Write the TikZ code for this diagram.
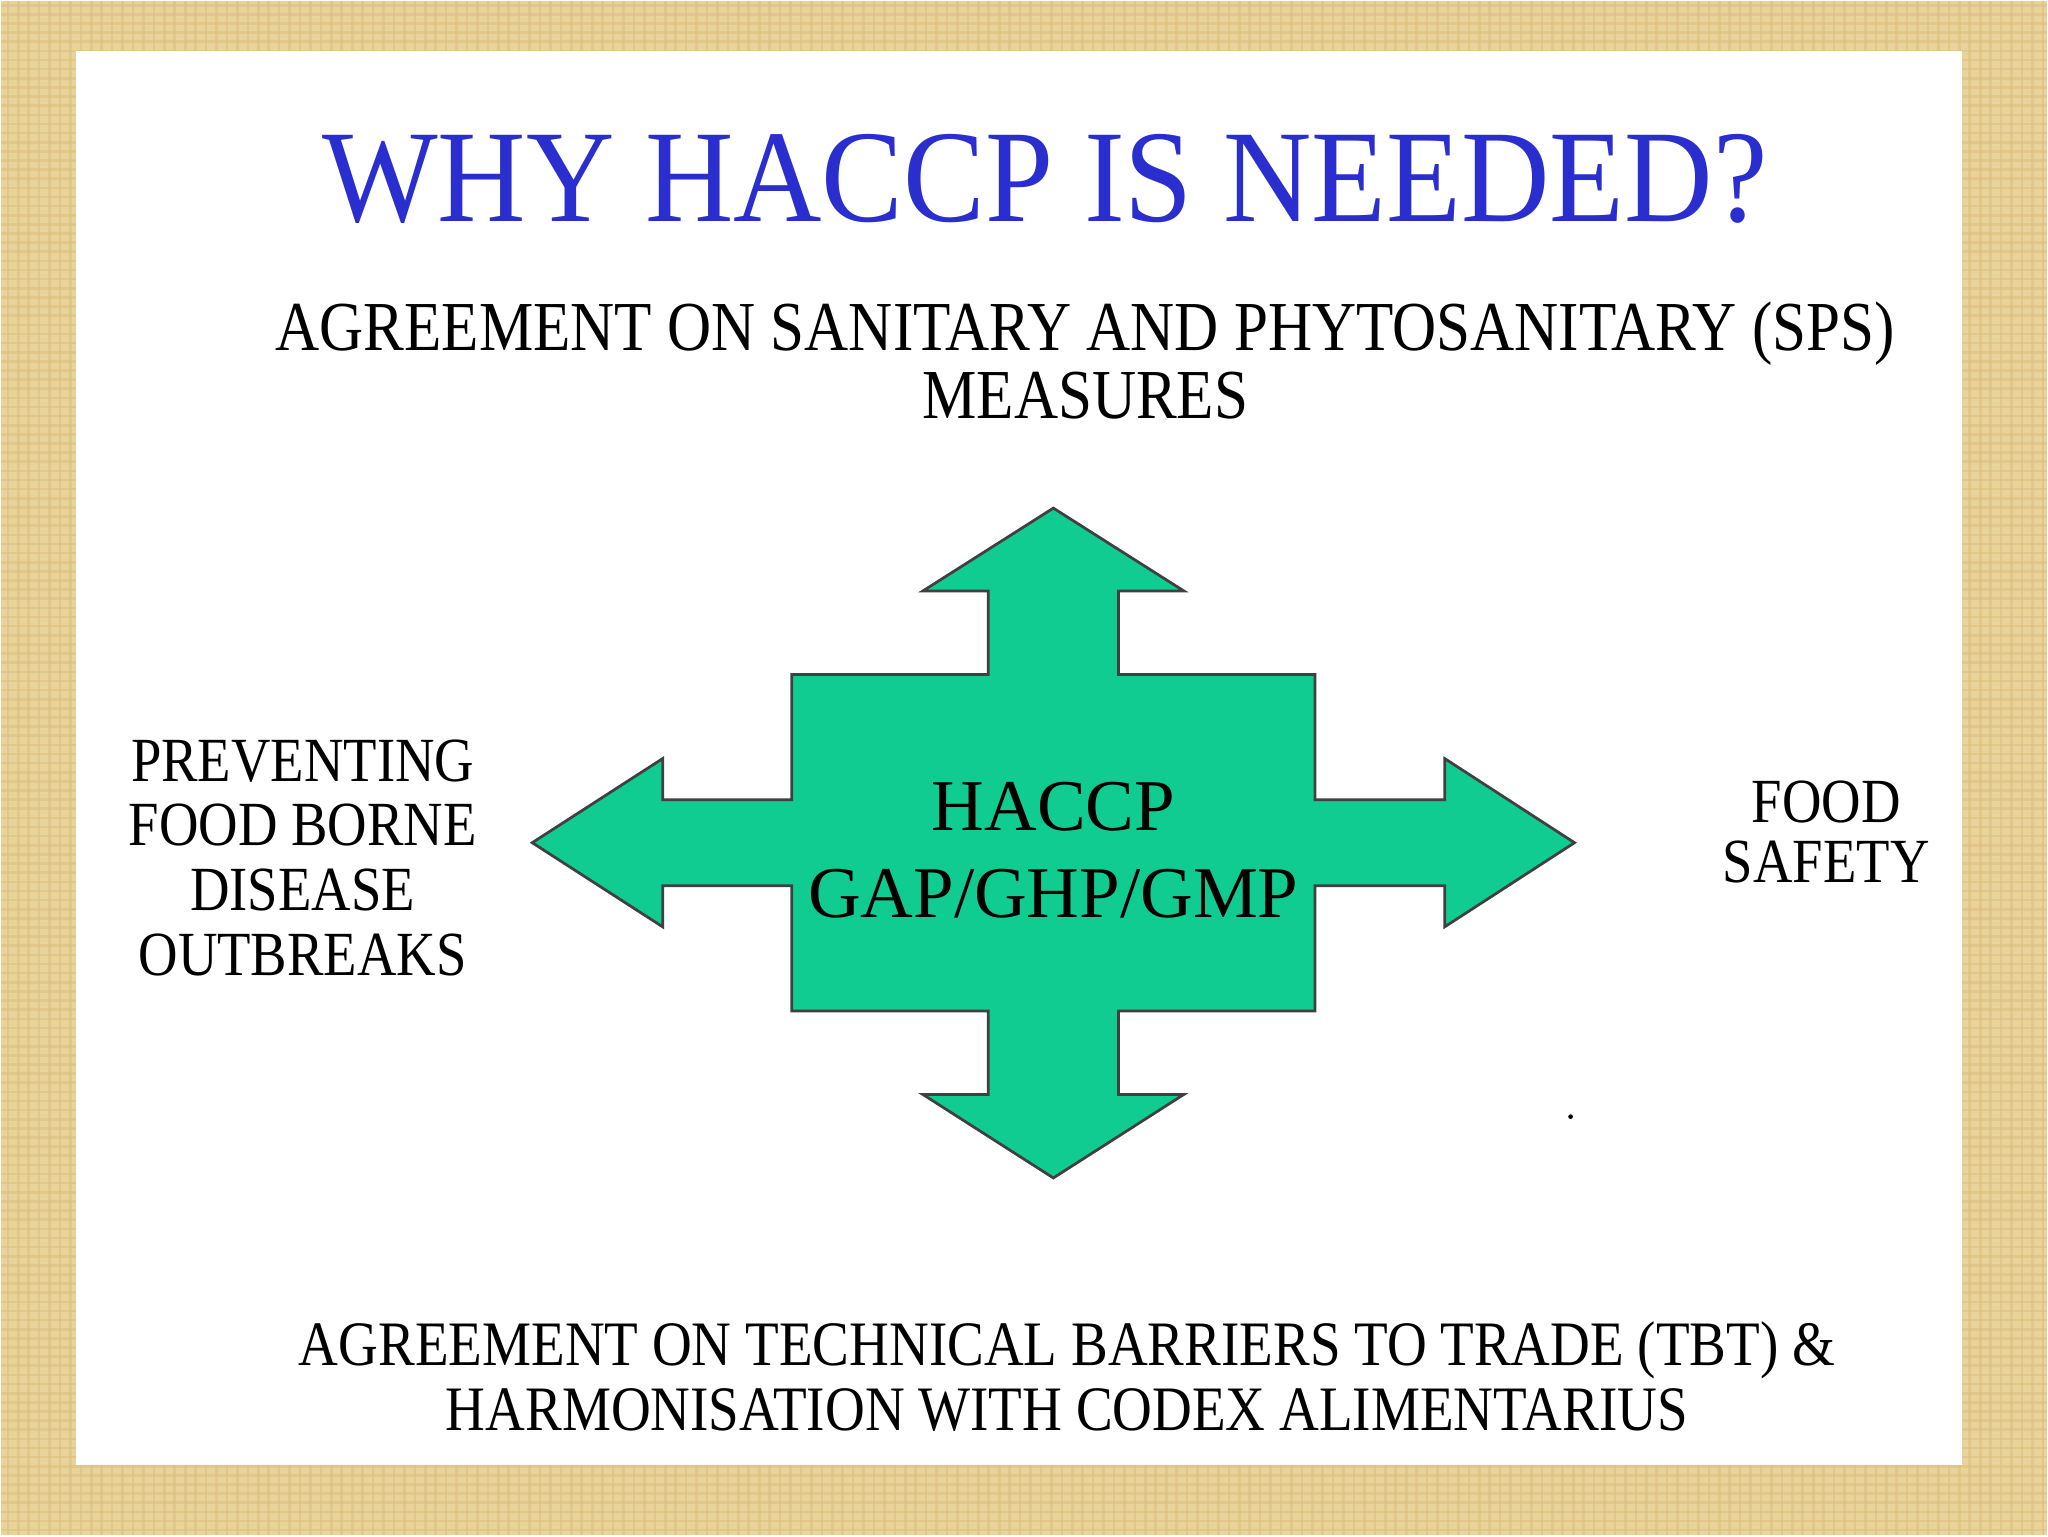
\documentclass[tikz,border=0pt]{standalone}
\usepackage{fontspec}
\setmainfont{Liberation Serif}
\newfontfamily\titlefont{Liberation Serif}[FakeStretch=0.93]
\newfontfamily\bandfont{Liberation Serif}[FakeStretch=0.87]

\definecolor{framebeige}{HTML}{E8D39A}
\definecolor{framethread}{HTML}{D9BC78}
\definecolor{titleblue}{HTML}{2A2ECE}
\definecolor{haccpgreen}{HTML}{10CC90}

\begin{document}
\begin{tikzpicture}[
    x=0.01cm, y=-0.01cm,
    % Text styles
    titletext/.style={
        inner sep=0pt,
        text=titleblue,
        font=\titlefont\fontsize{28.7}{30}\selectfont
    },
    bandtext/.style={
        inner sep=0pt,
        align=center,
        text=black
    },
    hubtext/.style={
        inner sep=0pt,
        align=center,
        text=black,
        font=\fontsize{15.9}{18.9}\selectfont
    },
    % Shape styles
    crossarrow/.style={
        fill=haccpgreen,
        draw=black!75,
        line width=0.6pt,
        line join=miter
    },
    thread/.style={
        draw=framethread,
        line width=0.02cm,
        opacity=0.45
    }
]

% === Frame and slide ===
\fill[framebeige] (0, 0) rectangle (1568, 1176);
\foreach \i in {3, 10, ..., 1176}
    \draw[thread] (0, \i) -- (1568, \i);
\foreach \i in {5, 13, ..., 1568}
    \draw[thread] (\i, 0) -- (\i, 1176);
\fill[white] (57, 38) rectangle (1503, 1122);
\useasboundingbox (0, 0) rectangle (1568, 1176);

% === Title ===
\node[titletext] (title) at (800, 136.5) {WHY HACCP IS NEEDED?};

% === Four-way arrow ===
\draw[crossarrow]
    (806.5, 388.5) -- (906.5, 452) -- (856.5, 452) -- (856.5, 516)
    -- (1007, 516) -- (1007, 612) -- (1106.5, 612) -- (1106.5, 580.5)
    -- (1206, 645) -- (1106.5, 709.5) -- (1106.5, 678) -- (1007, 678)
    -- (1007, 774) -- (856.5, 774) -- (856.5, 838) -- (906.5, 838)
    -- (806.5, 902) -- (706.5, 838) -- (756.5, 838) -- (756.5, 774)
    -- (606, 774) -- (606, 678) -- (507, 678) -- (507, 709.5)
    -- (407, 645) -- (507, 580.5) -- (507, 612) -- (606, 612)
    -- (606, 516) -- (756.5, 516) -- (756.5, 452) -- (706.5, 452)
    -- cycle;
\node[hubtext] (hub) at (806.5, 651) {HACCP\\GAP/GHP/GMP};

% === Agreements ===
\node[bandtext, font=\bandfont\fontsize{15.3}{14.8}\selectfont]
    (sps) at (831, 275.5) {AGREEMENT ON SANITARY AND PHYTOSANITARY (SPS)\\MEASURES};
\node[bandtext, font=\bandfont\fontsize{13.8}{14.1}\selectfont]
    (tbt) at (817, 1054) {AGREEMENT ON TECHNICAL BARRIERS TO TRADE (TBT) \&\\HARMONISATION WITH CODEX ALIMENTARIUS};

% === Side goals ===
\node[bandtext, font=\bandfont\fontsize{13.7}{14.1}\selectfont]
    (prevent) at (231, 656.5) {PREVENTING\\FOOD BORNE\\DISEASE\\OUTBREAKS};
\node[bandtext, font=\bandfont\fontsize{13.7}{13.1}\selectfont]
    (safety) at (1399, 637) {FOOD\\SAFETY};

\fill[black] (1203, 855) circle (0.018cm);

\end{tikzpicture}
\end{document}
